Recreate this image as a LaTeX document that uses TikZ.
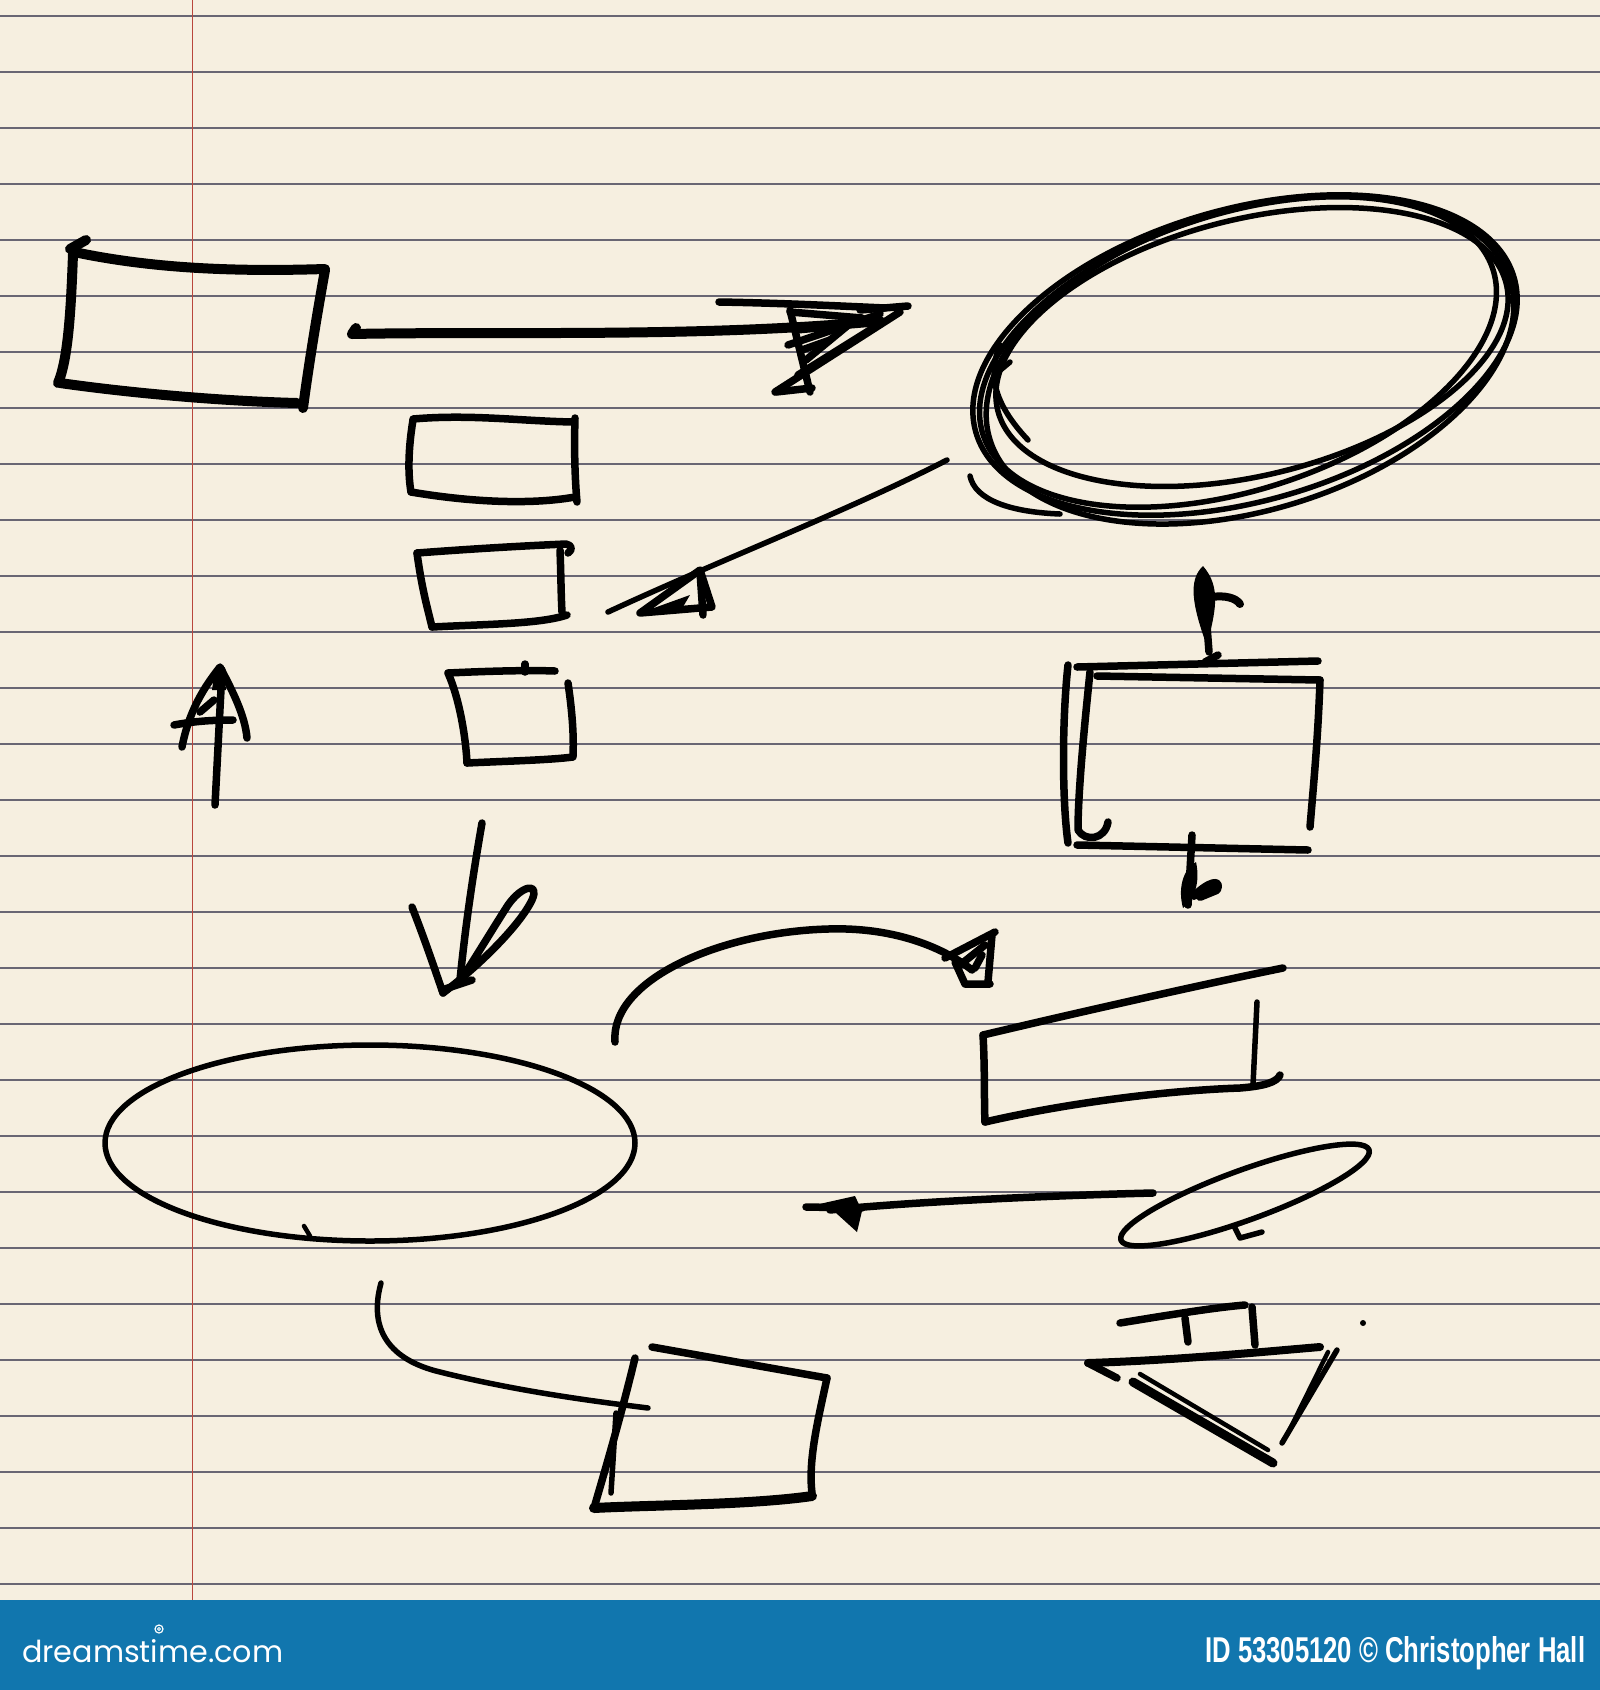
\documentclass[tikz,border=0pt]{standalone}
\usepackage{fontspec}
\usepackage{graphicx}
\newfontfamily\logofont{Poppins}
\newfontfamily\credfont{Liberation Sans}
\definecolor{paper}{RGB}{246,239,224}
\definecolor{ruleline}{RGB}{105,102,115}
\definecolor{marginred}{RGB}{185,70,60}
\definecolor{bannerblue}{RGB}{17,118,174}
\tikzset{
  ink/.style={line width=7.5pt, line cap=round, line join=round, draw=black},
  inkthick/.style={ink, line width=10pt},
  inkthin/.style={ink, line width=5.5pt},
  inkfine/.style={ink, line width=4.5pt},
}
\begin{document}
\begin{tikzpicture}[x=1pt,y=-1pt]
\useasboundingbox (0,0) rectangle (1600,1690);
% paper
\fill[paper] (0,0) rectangle (1600,1600);
\foreach \k in {0,...,28} {\draw[ruleline, line width=1.2pt] (0,{16+56*\k}) -- (1600,{16+56*\k});}
\draw[marginred, line width=1pt] (192,0) -- (192,1600);
% banner
\fill[bannerblue] (0,1600) rectangle (1600,1690);
\node[anchor=base west, inner sep=0pt, text=white] (logo) at (22,1662) {\resizebox{261pt}{23pt}{\logofont dreamstime.com}};
\draw[white, line width=1.2pt] (159,1629) circle (4);
\draw[white, line width=1pt] (159,1629) circle (1.5);
\node[anchor=base west, inner sep=0pt, text=white] (credit) at (1205,1662) {\resizebox{380pt}{26pt}{\credfont\bfseries ID 53305120 © Christopher Hall}};

% big rectangle top-left
\draw[inkthick] (86,240) -- (70,249);
\draw[inkthick] (74,252) .. controls (150,268) and (230,272) .. (325,269);
\draw[inkthick] (73,254) .. controls (71,310) and (68,360) .. (58,383);
\draw[inkthick] (60,383) .. controls (130,393) and (220,401) .. (297,403);
\draw[inkthick] (325,270) .. controls (316,320) and (308,370) .. (303,408);

% long arrow to big ellipse
\draw[ink, line width=10pt] (356,328) -- (352,334) .. controls (500,331) and (700,338) .. (880,321);
\draw[ink] (719,302) .. controls (780,303) and (840,306) .. (885,308);
\draw[ink] (860,310) -- (908,306);
\draw[ink] (790,310) -- (810,392);
\draw[ink] (775,392) -- (900,312);
\draw[ink] (798,375) -- (870,330);
\draw[ink] (790,312) -- (862,318);
\draw[ink] (806,360) -- (852,322);
\draw[ink] (776,392) -- (812,388);
\draw[ink] (788,345) -- (880,314);
\draw[ink] (796,330) -- (840,326);
\draw[ink] (802,350) -- (830,340);

% small rectangle 1
\draw[ink] (413,419) .. controls (470,414) and (520,421) .. (573,422);
\draw[ink] (575,418) .. controls (574,450) and (575,480) .. (577,502);
\draw[ink] (411,492) .. controls (470,502) and (530,505) .. (575,497);
\draw[ink] (413,420) .. controls (408,450) and (408,475) .. (411,492);
% small rectangle 2
\draw[ink] (417,553) .. controls (470,549) and (520,546) .. (566,544) .. controls (572,545) and (573,550) .. (568,553);
\draw[ink] (560,550) .. controls (561,575) and (561,595) .. (562,612);
\draw[ink] (432,627) .. controls (490,624) and (540,624) .. (567,615);
\draw[ink] (417,553) .. controls (422,590) and (428,610) .. (432,627);
% small rectangle 3
\draw[ink] (448,673) .. controls (490,671) and (530,670) .. (555,671);
\draw[ink] (525,664) -- (525,672);
\draw[ink] (568,683) .. controls (572,710) and (574,735) .. (573,756);
\draw[ink] (467,763) .. controls (510,761) and (550,760) .. (573,757);
\draw[ink] (448,673) .. controls (460,700) and (466,740) .. (467,763);

% arrow from big ellipse down-left
\draw[inkthin] (947,460) .. controls (850,510) and (720,560) .. (608,612);
\draw[ink] (700,570) -- (640,613) -- (712,607) -- cycle;
\draw[ink] (700,572) -- (703,615);
\fill (640,613) -- (690,595) -- (680,612) -- cycle;

% big scribbled ellipse
\draw[inkthin, rotate around={16:(1245,355)}] (1245,355) ellipse [x radius=280, y radius=146];
\draw[inkthin, rotate around={18:(1238,352)}] (1238,352) ellipse [x radius=268, y radius=138];
\draw[inkthin, rotate around={14:(1252,347)}] (1252,347) ellipse [x radius=262, y radius=128];
\draw[inkthin, rotate around={17:(1250,360)}] (1250,360) ellipse [x radius=272, y radius=150];
\draw[inkthin] (970,476) .. controls (975,500) and (1010,512) .. (1060,514);
\draw[inkthin] (1028,440) .. controls (1000,410) and (985,380) .. (1000,345);
\draw[inkthin] (1010,362) -- (998,372);

% up arrow
\draw[ink] (215,805) -- (222,670);
\draw[ink] (182,747) .. controls (190,705) and (210,680) .. (220,667) .. controls (232,690) and (245,715) .. (247,738);
\draw[ink] (174,725) .. controls (195,721) and (215,720) .. (233,720);
\draw[ink] (200,712) -- (214,700);
\fill (215,668) -- (224,668) -- (226,690) -- (212,690) -- cycle;

% down arrow
\draw[ink] (482,823) .. controls (472,880) and (465,930) .. (460,980);
\draw[ink] (412,907) .. controls (425,940) and (435,970) .. (443,993);
\draw[ink] (443,993) .. controls (480,965) and (520,925) .. (532,900) .. controls (540,882) and (522,885) .. (508,905) .. controls (492,930) and (477,955) .. (464,975);
\draw[ink] (442,990) -- (472,980);

% right box with arrows
\draw[ink] (1077,667) -- (1318,661);
\draw[ink] (1205,662) -- (1218,655);
\draw[ink] (1097,676) -- (1320,680);
\draw[ink] (1068,665) .. controls (1062,720) and (1062,800) .. (1068,843);
\draw[ink] (1090,672) .. controls (1085,720) and (1078,790) .. (1078,830) .. controls (1085,842) and (1105,840) .. (1108,822);
\draw[ink] (1077,845) -- (1308,850);
\draw[ink] (1320,680) .. controls (1318,740) and (1313,790) .. (1310,827);
% top blob arrow
\draw[ink] (1209,652) -- (1205,600);
\fill (1203,566) .. controls (1188,580) and (1192,605) .. (1207,646) .. controls (1215,612) and (1222,588) .. (1203,566) -- cycle;
\draw[ink, line width=8pt] (1212,597) .. controls (1225,595) and (1236,598) .. (1240,604);
% bottom blob arrow
\draw[ink] (1192,835) -- (1188,905);
\fill (1183,908) .. controls (1178,890) and (1182,870) .. (1196,862) .. controls (1200,880) and (1196,898) .. (1183,908) -- cycle;
\draw[ink, line width=8pt] (1194,896) .. controls (1208,882) and (1222,878) .. (1217,890) -- (1200,897);

% curved arrow
\draw[ink] (615,1042) .. controls (610,980) and (720,932) .. (828,929) .. controls (890,927) and (940,945) .. (972,970);
\draw[ink] (995,932) -- (945,958);
\draw[ink] (992,935) -- (988,982);
\draw[ink] (955,962) -- (965,984) -- (990,984);
\draw[ink] (960,965) -- (985,945);
\draw[ink] (975,968) -- (982,955);

% tilted rectangle
\draw[ink] (983,1035) .. controls (1080,1012) and (1200,985) .. (1283,968);
\draw[ink] (983,1035) .. controls (985,1070) and (984,1100) .. (985,1122);
\draw[ink] (985,1122) .. controls (1080,1100) and (1180,1090) .. (1240,1088) .. controls (1265,1086) and (1277,1082) .. (1280,1075);
\draw[inkthin] (1257,1002) -- (1253,1085);

% left arrow
\draw[ink] (1153,1193) .. controls (1030,1196) and (900,1203) .. (830,1210);
\fill (806,1207) -- (855,1196) -- (862,1211) -- (857,1232) -- (836,1213) -- cycle;
\draw[ink] (806,1207) -- (862,1208);

% elongated loop
\draw[inkthin, rotate around={20:(1245,1195)}] (1245,1195) ellipse [x radius=132, y radius=25];
\draw[inkthin] (1234,1226) -- (1240,1238) -- (1262,1232);

% bottom-left ellipse
\draw[inkthin] (370,1143) ellipse [x radius=265, y radius=98];
\draw[inkfine] (304,1226) -- (310,1236);

% S connector
\draw[inkthin] (381,1283) .. controls (368,1330) and (390,1360) .. (440,1372) .. controls (520,1392) and (600,1402) .. (648,1408);

% bottom square
\draw[ink] (652,1347) -- (827,1378);
\draw[ink] (827,1378) .. controls (818,1420) and (808,1460) .. (812,1493);
\draw[inkthick] (594,1508) .. controls (650,1505) and (750,1505) .. (812,1496);
\draw[ink] (635,1358) .. controls (620,1420) and (605,1470) .. (594,1508);
\draw[inkthin] (616,1413) -- (611,1493);

% bottom-right triangle arrow
\draw[ink] (1120,1323) .. controls (1180,1313) and (1220,1307) .. (1245,1305);
\draw[ink] (1185,1318) -- (1188,1342);
\draw[ink] (1252,1307) -- (1255,1345);
\fill (1363,1323) circle (3);
\draw[ink, line width=8pt] (1088,1363) .. controls (1180,1360) and (1260,1352) .. (1320,1347);
\draw[ink] (1088,1363) -- (1117,1378);
\draw[ink, line width=9pt] (1133,1382) -- (1273,1463);
\draw[inkfine] (1140,1374) -- (1268,1450);
\draw[inkthin] (1337,1350) -- (1282,1443);
\draw[inkfine] (1328,1352) -- (1288,1433);
\end{tikzpicture}
\end{document}
